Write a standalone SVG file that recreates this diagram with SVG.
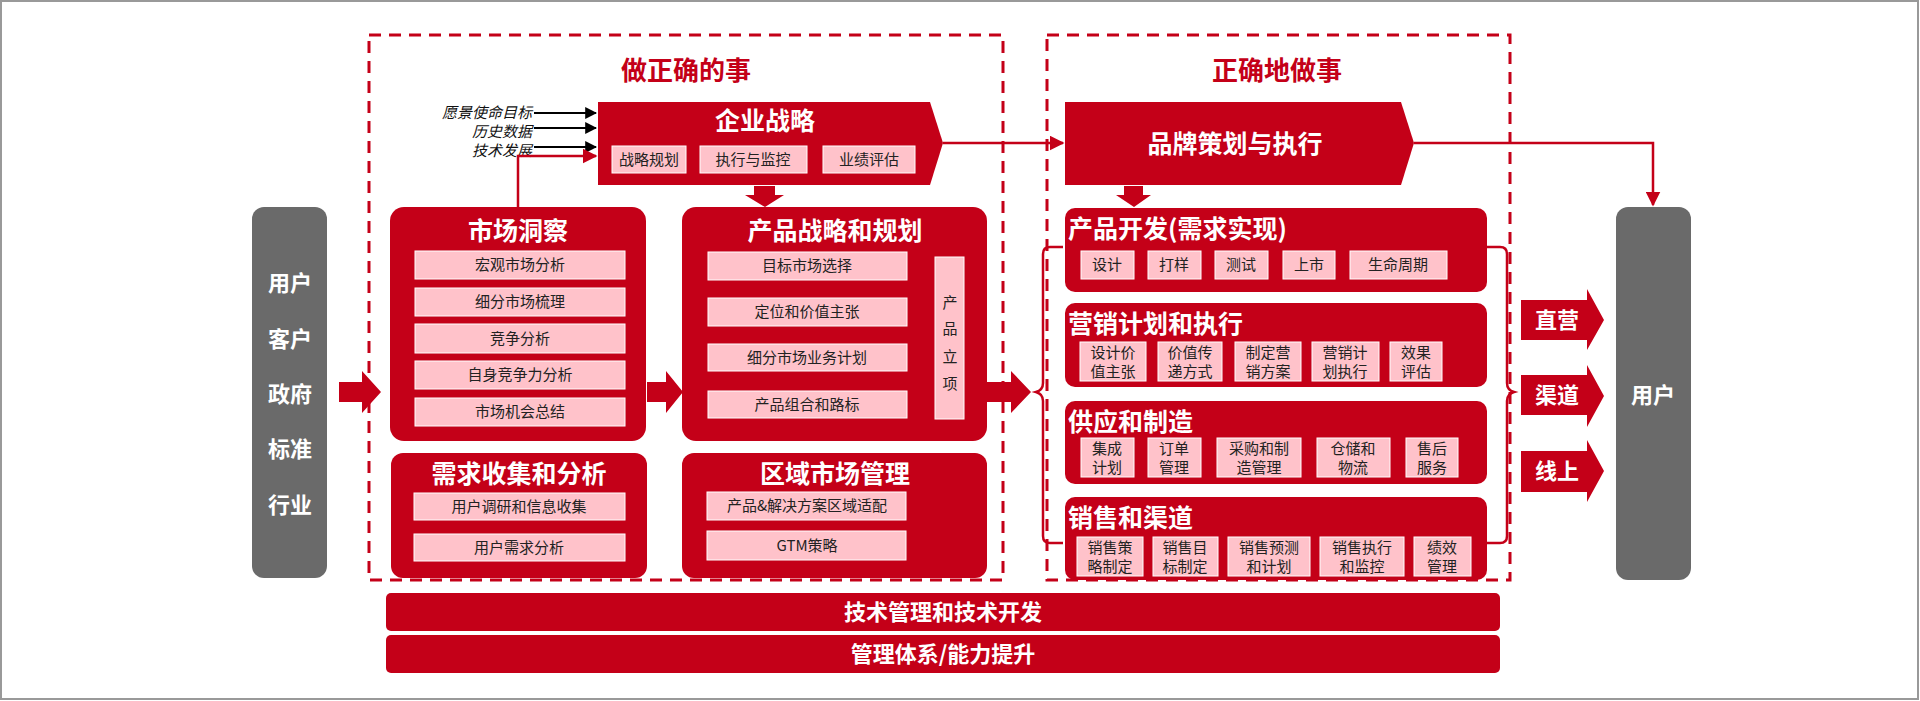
<svg xmlns="http://www.w3.org/2000/svg" width="1920" height="701" viewBox="0 0 1920 701">
<style>
.r{fill:#C40018}
.p{fill:#FFC2CA;stroke:#fff;stroke-width:1}
.g{fill:#6A6A6A}
.dash{fill:none;stroke:#C40018;stroke-width:3;stroke-dasharray:12,8}
text{font-family:"Noto Sans CJK SC","Liberation Sans",sans-serif}
.t{fill:#fff;font-weight:bold;font-size:25px}
.tl{fill:#fff;font-weight:bold;font-size:25px}
.it{fill:#222;font-size:15px;text-anchor:middle}
.hd{fill:#C40018;font-weight:bold;font-size:26px;text-anchor:middle}
.gt{fill:#fff;font-weight:bold;font-size:22px;text-anchor:middle}
.in{fill:#111;font-size:15px;font-style:italic;text-anchor:end}
.ln{fill:none;stroke:#C40018;stroke-width:2.5}
</style>
<defs>
<marker id="ab" viewBox="0 0 10 10" refX="9" refY="5" markerWidth="6" markerHeight="6" orient="auto"><path d="M0,0L10,5L0,10z" fill="#000"/></marker>
<marker id="ar" viewBox="0 0 10 10" refX="9" refY="5" markerWidth="6" markerHeight="6" orient="auto"><path d="M0,0L10,5L0,10z" fill="#C40018"/></marker>
</defs>
<rect x="1" y="1" width="1917" height="698" fill="#fff" stroke="#999" stroke-width="2"/>
<rect class="dash" x="369" y="35" width="634" height="545"/>
<rect class="dash" x="1047" y="35" width="463" height="545"/>
<text class="hd" x="686" y="80">做正确的事</text>
<text class="hd" x="1277" y="80">正确地做事</text>

<g id="left-users"><rect class="g" x="252" y="207" width="75" height="371" rx="12"/>
<text class="gt" x="290" y="291">用户</text><text class="gt" x="290" y="347">客户</text><text class="gt" x="290" y="402">政府</text><text class="gt" x="290" y="457">标准</text><text class="gt" x="290" y="513">行业</text></g>

<g id="right-users"><rect class="g" x="1616" y="207" width="75" height="373" rx="12"/><text class="gt" x="1653" y="403">用户</text></g>

<g id="inputs"><text class="in" x="532" y="118">愿景使命目标</text><text class="in" x="532" y="137">历史数据</text><text class="in" x="532" y="156">技术发展</text></g>

<g id="corp"><path class="r" d="M598,102H930L943,143L930,185H598z"/>
<text class="t" x="765" y="130" text-anchor="middle">企业战略</text>
<rect class="p" x="612" y="146" width="74" height="27"/><text class="it" x="649" y="165">战略规划</text>
<rect class="p" x="700" y="146" width="107" height="27"/><text class="it" x="753" y="165">执行与监控</text>
<rect class="p" x="823" y="146" width="92" height="27"/><text class="it" x="869" y="165">业绩评估</text></g>

<g id="brand"><path class="r" d="M1065,102H1401L1414,143L1401,185H1065z"/>
<text class="t" x="1235" y="153" text-anchor="middle" font-size="26">品牌策划与执行</text></g>

<g id="market"><rect class="r" x="390" y="207" width="256" height="234" rx="14"/>
<text class="t" x="518" y="240" text-anchor="middle">市场洞察</text>
<rect class="p" x="415" y="251" width="210" height="28"/><text class="it" x="520" y="270">宏观市场分析</text>
<rect class="p" x="415" y="288" width="210" height="28"/><text class="it" x="520" y="307">细分市场梳理</text>
<rect class="p" x="415" y="324" width="210" height="29"/><text class="it" x="520" y="344">竞争分析</text>
<rect class="p" x="415" y="361" width="210" height="28"/><text class="it" x="520" y="380">自身竞争力分析</text>
<rect class="p" x="415" y="398" width="210" height="28"/><text class="it" x="520" y="417">市场机会总结</text></g>

<g id="demand"><rect class="r" x="391" y="453" width="256" height="125" rx="12"/>
<text class="t" x="519" y="483" text-anchor="middle">需求收集和分析</text>
<rect class="p" x="414" y="493" width="211" height="27"/><text class="it" x="519" y="512">用户调研和信息收集</text>
<rect class="p" x="414" y="534" width="211" height="27"/><text class="it" x="519" y="553">用户需求分析</text></g>

<g id="product"><rect class="r" x="682" y="207" width="305" height="234" rx="14"/>
<text class="t" x="835" y="240" text-anchor="middle">产品战略和规划</text>
<rect class="p" x="708" y="252" width="199" height="28"/><text class="it" x="807" y="271">目标市场选择</text>
<rect class="p" x="708" y="298" width="199" height="28"/><text class="it" x="807" y="317">定位和价值主张</text>
<rect class="p" x="708" y="344" width="199" height="27"/><text class="it" x="807" y="363">细分市场业务计划</text>
<rect class="p" x="708" y="391" width="199" height="27"/><text class="it" x="807" y="410">产品组合和路标</text>
<rect class="p" x="935" y="257" width="29" height="162"/>
<text class="it" x="950" y="308">产</text><text class="it" x="950" y="334">品</text><text class="it" x="950" y="362">立</text><text class="it" x="950" y="389">项</text></g>

<g id="region"><rect class="r" x="682" y="453" width="305" height="125" rx="12"/>
<text class="t" x="835" y="483" text-anchor="middle">区域市场管理</text>
<rect class="p" x="707" y="492" width="199" height="28"/><text class="it" x="807" y="511">产品&amp;解决方案区域适配</text>
<rect class="p" x="707" y="531" width="199" height="29"/><text class="it" x="807" y="551">GTM策略</text></g>

<g id="dev"><rect class="r" x="1065" y="208" width="422" height="84" rx="10"/>
<text class="tl" x="1068" y="238">产品开发(需求实现)</text>
<rect class="p" x="1081" y="251" width="53" height="28"/><text class="it" x="1107" y="270">设计</text>
<rect class="p" x="1148" y="251" width="53" height="28"/><text class="it" x="1174" y="270">打样</text>
<rect class="p" x="1215" y="251" width="53" height="28"/><text class="it" x="1241" y="270">测试</text>
<rect class="p" x="1283" y="251" width="52" height="28"/><text class="it" x="1309" y="270">上市</text>
<rect class="p" x="1350" y="251" width="97" height="28"/><text class="it" x="1398" y="270">生命周期</text></g>

<g id="marketing"><rect class="r" x="1065" y="303" width="422" height="84" rx="10"/>
<text class="tl" x="1068" y="333">营销计划和执行</text>
<rect class="p" x="1080" y="342" width="66" height="39"/><text class="it" x="1113" y="358">设计价</text><text class="it" x="1113" y="377">值主张</text>
<rect class="p" x="1158" y="342" width="64" height="39"/><text class="it" x="1190" y="358">价值传</text><text class="it" x="1190" y="377">递方式</text>
<rect class="p" x="1235" y="342" width="66" height="39"/><text class="it" x="1268" y="358">制定营</text><text class="it" x="1268" y="377">销方案</text>
<rect class="p" x="1312" y="342" width="67" height="39"/><text class="it" x="1345" y="358">营销计</text><text class="it" x="1345" y="377">划执行</text>
<rect class="p" x="1390" y="342" width="52" height="39"/><text class="it" x="1416" y="358">效果</text><text class="it" x="1416" y="377">评估</text></g>

<g id="supply"><rect class="r" x="1065" y="401" width="422" height="83" rx="10"/>
<text class="tl" x="1068" y="431">供应和制造</text>
<rect class="p" x="1081" y="438" width="53" height="39"/><text class="it" x="1107" y="454">集成</text><text class="it" x="1107" y="473">计划</text>
<rect class="p" x="1148" y="438" width="53" height="39"/><text class="it" x="1174" y="454">订单</text><text class="it" x="1174" y="473">管理</text>
<rect class="p" x="1217" y="438" width="84" height="39"/><text class="it" x="1259" y="454">采购和制</text><text class="it" x="1259" y="473">造管理</text>
<rect class="p" x="1317" y="438" width="73" height="39"/><text class="it" x="1353" y="454">仓储和</text><text class="it" x="1353" y="473">物流</text>
<rect class="p" x="1406" y="438" width="52" height="39"/><text class="it" x="1432" y="454">售后</text><text class="it" x="1432" y="473">服务</text></g>

<g id="sales"><rect class="r" x="1065" y="497" width="422" height="83" rx="10"/>
<text class="tl" x="1068" y="527">销售和渠道</text>
<rect class="p" x="1077" y="537" width="66" height="39"/><text class="it" x="1110" y="553">销售策</text><text class="it" x="1110" y="572">略制定</text>
<rect class="p" x="1153" y="537" width="65" height="39"/><text class="it" x="1185" y="553">销售目</text><text class="it" x="1185" y="572">标制定</text>
<rect class="p" x="1228" y="537" width="82" height="39"/><text class="it" x="1269" y="553">销售预测</text><text class="it" x="1269" y="572">和计划</text>
<rect class="p" x="1320" y="537" width="84" height="39"/><text class="it" x="1362" y="553">销售执行</text><text class="it" x="1362" y="572">和监控</text>
<rect class="p" x="1414" y="537" width="57" height="39"/><text class="it" x="1442" y="553">绩效</text><text class="it" x="1442" y="572">管理</text></g>

<g id="channels">
<path class="r" d="M1521,300H1587V289L1604,320L1587,350V340H1521z"/><text class="gt" x="1557" y="328">直营</text>
<path class="r" d="M1521,375H1587V365L1604,396L1587,427V415H1521z"/><text class="gt" x="1557" y="403">渠道</text>
<path class="r" d="M1521,451H1587V440L1604,471L1587,502V492H1521z"/><text class="gt" x="1557" y="479">线上</text></g>

<g id="bars"><rect class="r" x="386" y="593" width="1114" height="38" rx="5"/><text class="gt" x="943" y="620" font-size="20">技术管理和技术开发</text>
<rect class="r" x="386" y="635" width="1114" height="38" rx="5"/><text class="gt" x="943" y="662" font-size="20">管理体系/能力提升</text></g>

<g id="connectors">
<line x1="534" y1="113" x2="596" y2="113" stroke="#000" stroke-width="2" marker-end="url(#ab)"/>
<line x1="534" y1="128" x2="596" y2="128" stroke="#000" stroke-width="2" marker-end="url(#ab)"/>
<line x1="534" y1="147" x2="596" y2="147" stroke="#000" stroke-width="2" marker-end="url(#ab)"/>
<path class="ln" d="M518,207V156H596" marker-end="url(#ar)"/>
<path class="ln" d="M943,143H1063" marker-end="url(#ar)"/>
<path class="ln" d="M1414,143H1653V205" marker-end="url(#ar)"/>
<path class="r" d="M754,186H775V195H784L765,207L745,195H754z"/>
<path class="r" d="M1124,186H1143V195H1151L1134,207L1116,195H1124z"/>
<path class="r" d="M339,382H362V371L381,392L362,413V402H339z"/>
<path class="r" d="M647,382H666V371L683,392L666,413V402H647z"/>
<path class="r" d="M987,382H1011V371L1031,392L1011,413V402H987z"/>
<path class="ln" d="M1063,247H1050Q1043,247 1043,254V383Q1043,390 1036,392Q1043,394 1043,401V536Q1043,543 1050,543H1063"/>
<path class="ln" d="M1487,247H1500Q1507,247 1507,254V383Q1507,390 1514,392Q1507,394 1507,401V536Q1507,543 1500,543H1487"/>
</g>
</svg>
